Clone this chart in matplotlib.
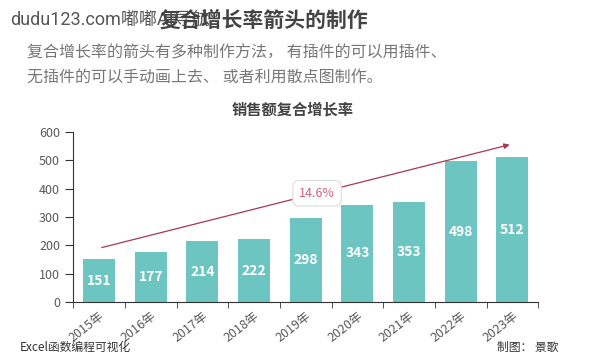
import matplotlib.pyplot as plt

plt.rcParams['font.family'] = ['Noto Sans CJK SC', 'DejaVu Sans']

# 数据
years = ['2015年', '2016年', '2017年', '2018年', '2019年',
         '2020年', '2021年', '2022年', '2023年']
sales = [151, 177, 214, 222, 298, 343, 353, 498, 512]
cagr_label = '14.6%'

bar_color = '#6CC5C1'
arrow_color = '#A8384F'
text_gray = '#595959'

fig = plt.figure(figsize=(6, 3.6), dpi=100)
fig.patch.set_facecolor('white')

# 顶部标题与说明文字
fig.text(0.017, 0.945, 'dudu123.com嘟嘟AI导航', fontsize=13, color='#555555',
         family=['Roboto', 'Noto Sans CJK SC'], va='center')
fig.text(0.265, 0.945, '复合增长率箭头的制作', fontsize=15, color='#444444',
         fontweight='bold', va='center')
fig.text(0.045, 0.853, '复合增长率的箭头有多种制作方法， 有插件的可以用插件、',
         fontsize=11.5, color='#777777', va='center')
fig.text(0.045, 0.783, '无插件的可以手动画上去、 或者利用散点图制作。',
         fontsize=11.5, color='#777777', va='center')

ax = fig.add_axes([0.122, 0.161, 0.775, 0.472])
x = range(len(years))
bars = ax.bar(x, sales, width=0.62, color=bar_color, zorder=2)

for i, v in enumerate(sales):
    ax.text(i, v / 2, str(v), ha='center', va='center', color='white',
            fontsize=10, fontweight='bold')

fig.text(0.487, 0.695, '销售额复合增长率', fontsize=11, color='#444444',
         fontweight='bold', ha='center', va='center')

ax.set_xlim(-0.5, len(years) - 0.5)
ax.set_ylim(0, 600)
ax.set_yticks(range(0, 601, 100))
ax.set_xticks(list(x))
ax.set_xticklabels(years, rotation=38, ha='right', rotation_mode='anchor')
ax.set_xticks([i + 0.5 for i in range(-1, len(years))], minor=True)
ax.tick_params(axis='x', which='major', length=0, labelsize=9,
               labelcolor=text_gray, pad=5)
ax.tick_params(axis='x', which='minor', length=4, direction='out',
               color='#333333')
ax.tick_params(axis='y', length=6, color='#333333', labelsize=9,
               labelcolor=text_gray)

for s in ['top', 'right']:
    ax.spines[s].set_visible(False)
ax.spines['left'].set_color('#333333')
ax.spines['bottom'].set_color('#333333')

# 复合增长率箭头
start = (0, sales[0] + 39)
end = (len(years) - 1.0, sales[-1] + 46)
ax.annotate('', xy=end, xytext=start,
            arrowprops=dict(arrowstyle='-|>', color=arrow_color, lw=0.9,
                            mutation_scale=8), zorder=3)
mid_x = 4.22
mid_y = start[1] + (end[1] - start[1]) * (mid_x - start[0]) / (end[0] - start[0])
ax.text(mid_x, mid_y, cagr_label, ha='center', va='center', fontsize=9,
        color='#D0607A', zorder=4,
        bbox=dict(boxstyle='round,pad=0.5', fc='white', ec='#DDDDDD', lw=0.8))

# 底部署名
fig.text(0.033, 0.035, 'Excel函数编程可视化', fontsize=8.5, color='#333333', va='center')
fig.text(0.828, 0.035, '制图： 景歌', fontsize=8.5, color='#333333', va='center')

fig.savefig('out.png', dpi=100)
